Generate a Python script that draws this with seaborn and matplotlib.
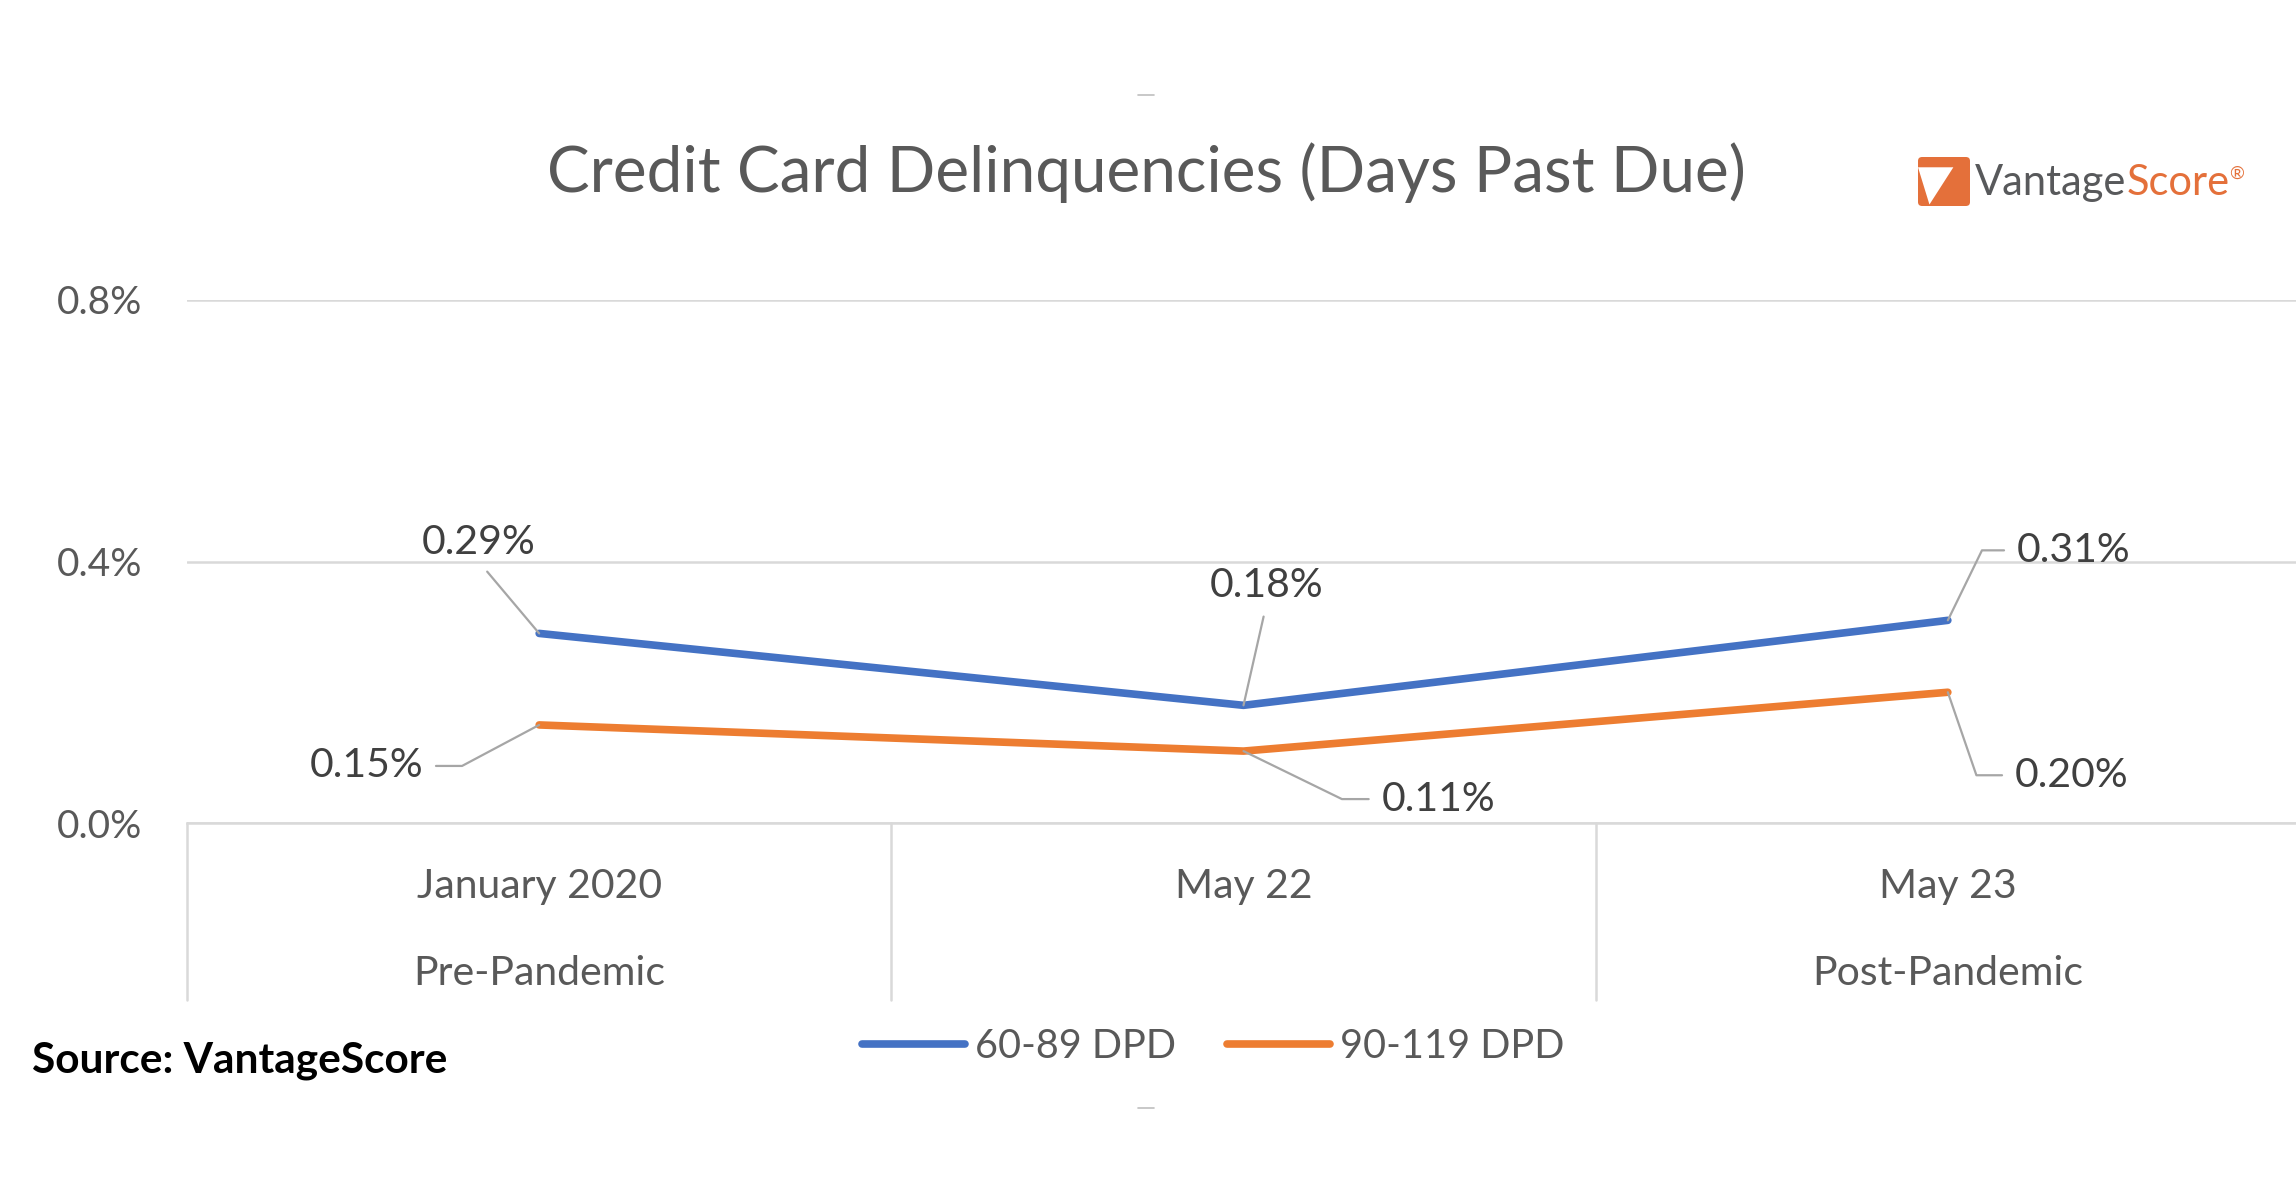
import matplotlib
matplotlib.use("Agg")
import matplotlib.pyplot as plt
import matplotlib.transforms as mtransforms
from matplotlib.patches import FancyBboxPatch, Polygon
from matplotlib.lines import Line2D
import seaborn as sns
import pandas as pd

# data
periods = ["January 2020", "May 22", "May 23"]
phases = ["Pre-Pandemic", "", "Post-Pandemic"]
series_names = ["60-89 DPD", "90-119 DPD"]
dpd_60_89 = [0.29, 0.18, 0.31]
dpd_90_119 = [0.15, 0.11, 0.20]
ytick_pos = [0.0, 0.4, 0.8]

colors = ["#4472C4", "#ED7D31"]
grey_txt = "#595959"
grid_col = "#d9d9d9"
leader_col = "#a6a6a6"

sns.set_theme(style="white")
plt.rcParams["font.family"] = ["Lato", "DejaVu Sans"]

df = pd.DataFrame({
    "period": periods * 2,
    "value": dpd_60_89 + dpd_90_119,
    "series": [s for s in series_names for _ in periods],
})

W, H = 2296, 1203
fig = plt.figure(figsize=(W / 100, H / 100), dpi=100)
ax = fig.add_axes([187 / W, 1 - 823 / H, 2113 / W, 523 / H])

sns.lineplot(data=df, x="period", y="value", hue="series", palette=colors,
             lw=5.5, sort=False, ax=ax, solid_capstyle="round")

ax.set_xlim(-0.5, 2.5)
ax.set_ylim(0, 0.8)
ax.set_xlabel("")
ax.set_ylabel("")
ax.set_yticks(ytick_pos)
ax.set_yticklabels([f"{v:.1f}%" for v in ytick_pos])
ax.set_xticks(range(len(periods)))
ax.set_xticklabels(periods, va="center")
ax.tick_params(axis="y", length=0, pad=32, labelsize=28, labelcolor=grey_txt)
ax.tick_params(axis="x", length=0, pad=46, labelsize=29.5, labelcolor=grey_txt)
ax.yaxis.grid(True, color=grid_col, lw=1.8)
ax.set_axisbelow(True)
for side in ["left", "right", "top"]:
    ax.spines[side].set_visible(False)
ax.spines["bottom"].set_color(grid_col)
ax.spines["bottom"].set_linewidth(1.8)

# second row of category labels and separators
trans = mtransforms.blended_transform_factory(ax.transData, ax.transAxes)
for j, ph in enumerate(phases):
    ax.text(j, -0.287, ph, transform=trans, ha="center", va="center",
            fontsize=29.5, color=grey_txt)
for xb in [-0.5, 0.5, 1.5, 2.5]:
    ax.plot([xb, xb], [0, -0.338], transform=trans, color=grid_col, lw=1.8,
            clip_on=False)

# data callouts (offsets in pixels, leader style per label)
callouts = [
    [((-61, 91), (0.5, 0), "arc3,rad=0"),
     ((23, 120), (0.5, 0), "arc3,rad=0"),
     ((126, 70), (0, 0.5), "angle,angleA=0,angleB=64,rad=0")],
    [((-173, -41), (1, 0.5), "angle,angleA=0,angleB=28,rad=0"),
     ((195, -48), (0, 0.5), "angle,angleA=0,angleB=154,rad=0"),
     ((124, -83), (0, 0.5), "angle,angleA=0,angleB=109,rad=0")],
]
for vals, opts in zip([dpd_60_89, dpd_90_119], callouts):
    for j, (v, (off, rel, conn)) in enumerate(zip(vals, opts)):
        ax.annotate(f"{v:.2f}%", xy=(j, v), xytext=off, textcoords="offset pixels",
                    ha="center", va="center", fontsize=29.5, color="#404040",
                    arrowprops=dict(arrowstyle="-", color=leader_col, lw=1.6,
                                    relpos=rel, connectionstyle=conn,
                                    shrinkA=7, shrinkB=0))

handles, labels = ax.get_legend_handles_labels()
leg = ax.legend(handles, labels, loc="center", bbox_to_anchor=(1213 / W, 1 - 1046 / H),
                bbox_transform=fig.transFigure, ncol=2, frameon=False, fontsize=28.5,
                handlelength=2.6, handletextpad=0.25, columnspacing=1.3)
for t in leg.get_texts():
    t.set_color(grey_txt)

fig.text(1146 / W, 1 - 173 / H, "Credit Card Delinquencies (Days Past Due)",
         ha="center", va="center", fontsize=46, color=grey_txt)
fig.text(32 / W, 1 - 1061 / H, "Source: VantageScore", ha="left", va="center",
         fontsize=30.5, fontweight="bold", color="black",
         family=["Liberation Sans Narrow", "Lato", "DejaVu Sans"])

# logo
lax = fig.add_axes([1918 / W, 1 - 206 / H, 52 / W, 49 / H])
lax.set_xlim(0, 1)
lax.set_ylim(0, 1)
lax.axis("off")
lax.add_patch(FancyBboxPatch((0, 0), 1, 1, boxstyle="round,pad=0,rounding_size=0.08",
                             fc="#E4703A", ec="none"))
lax.add_patch(Polygon([(0, 0.79), (0.68, 0.79), (0.22, 0.03)], fc="white", ec="none"))
t1 = fig.text(1975 / W, 1 - 183 / H, "Vantage", ha="left", va="center",
              fontsize=30, color="#58595B")
t2 = ax.annotate("Score", xy=(1, 0.5), xycoords=t1, ha="left", va="center",
                 fontsize=30, color="#E4703A")
ax.annotate("®", xy=(1, 0.75), xycoords=t2, ha="left", va="center",
            fontsize=13, color="#E4703A")

for yy in [95, 1108]:
    fig.add_artist(Line2D([1138 / W, 1154 / W], [1 - yy / H] * 2, color="#bfbfbf", lw=1.2))

fig.savefig("out.png", dpi=100)
